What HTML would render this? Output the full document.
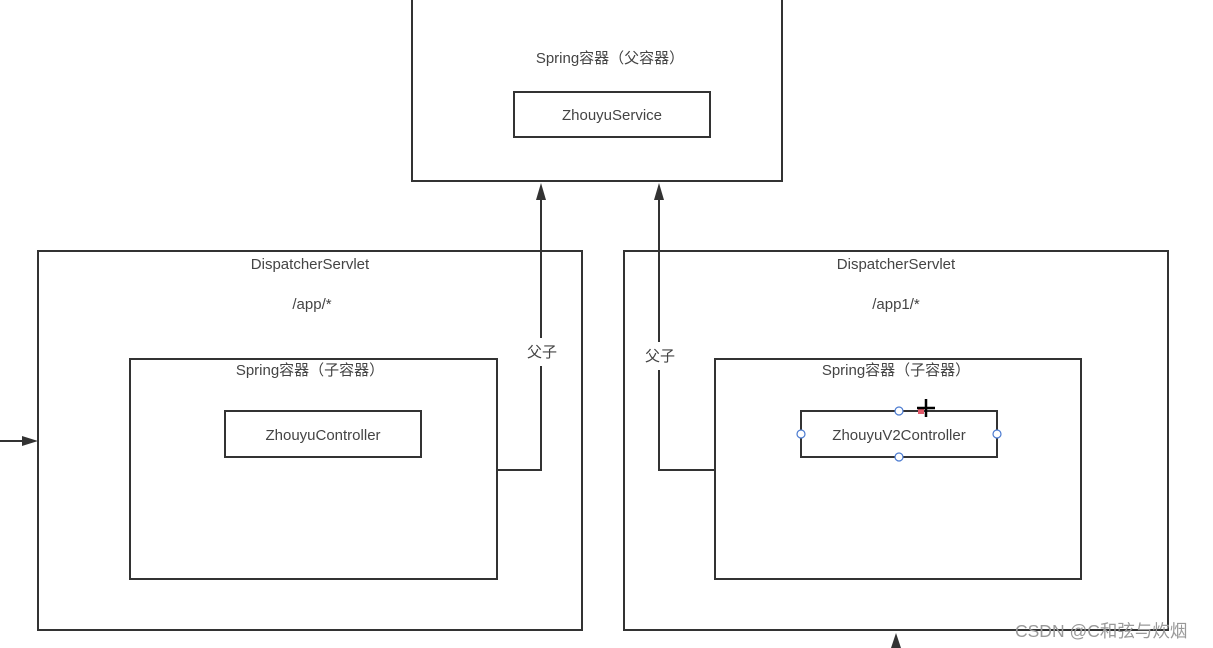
<!DOCTYPE html>
<html><head><meta charset="utf-8"><style>
html,body{margin:0;padding:0;background:#fff;width:1213px;height:648px;overflow:hidden}
svg text{font-family:"Liberation Sans","Noto Sans CJK SC",sans-serif;fill:#444;font-size:15px}
</style></head><body>
<svg width="1213" height="648" viewBox="0 0 1213 648" xmlns="http://www.w3.org/2000/svg">
<g fill="none" stroke="#333" stroke-width="2">
<rect x="412" y="-5" width="370" height="186"/>
<rect x="514" y="92" width="196" height="45"/>
<rect x="38" y="251" width="544" height="379"/>
<rect x="130" y="359" width="367" height="220"/>
<rect x="225" y="411" width="196" height="46"/>
<rect x="624" y="251" width="544" height="379"/>
<rect x="715" y="359" width="366" height="220"/>
<rect x="801" y="411" width="196" height="46"/>
<polyline points="497,470 541,470 541,366"/>
<line x1="541" y1="338" x2="541" y2="197"/>
<polyline points="715,470 659,470 659,370"/>
<line x1="659" y1="342" x2="659" y2="197"/>
<line x1="0" y1="441" x2="26" y2="441"/>
</g>
<g fill="#333">
<polygon points="541,183 536,200 546,200"/>
<polygon points="659,183 654,200 664,200"/>
<polygon points="38,441 22,436 22,446"/>
<polygon points="896,633 891,648 901,648"/>
</g>
<g fill="#fff" stroke="#4a7ad0" stroke-width="1.2">
<circle cx="899" cy="411" r="4"/><circle cx="899" cy="457" r="4"/>
<circle cx="801" cy="434" r="4"/><circle cx="997" cy="434" r="4"/>
</g>
<rect x="918" y="408" width="6" height="6" fill="#e05a6a"/>
<path d="M926 399v18M917 408h18" stroke="#000" stroke-width="2.5"/>
<g text-anchor="middle">
<text x="610" y="63">Spring容器（父容器）</text>
<text x="612" y="120">ZhouyuService</text>
<text x="310" y="269">DispatcherServlet</text>
<text x="312" y="309">/app/*</text>
<text x="310" y="375">Spring容器（子容器）</text>
<text x="323" y="440">ZhouyuController</text>
<text x="896" y="269">DispatcherServlet</text>
<text x="896" y="309">/app1/*</text>
<text x="896" y="375">Spring容器（子容器）</text>
<text x="899" y="440">ZhouyuV2Controller</text>
<text x="542" y="357">父子</text>
<text x="660" y="361">父子</text>
</g>
<text x="1015" y="637" style="fill:#999;font-size:17.5px">CSDN @C和弦与炊烟</text>
</svg>
</body></html>
